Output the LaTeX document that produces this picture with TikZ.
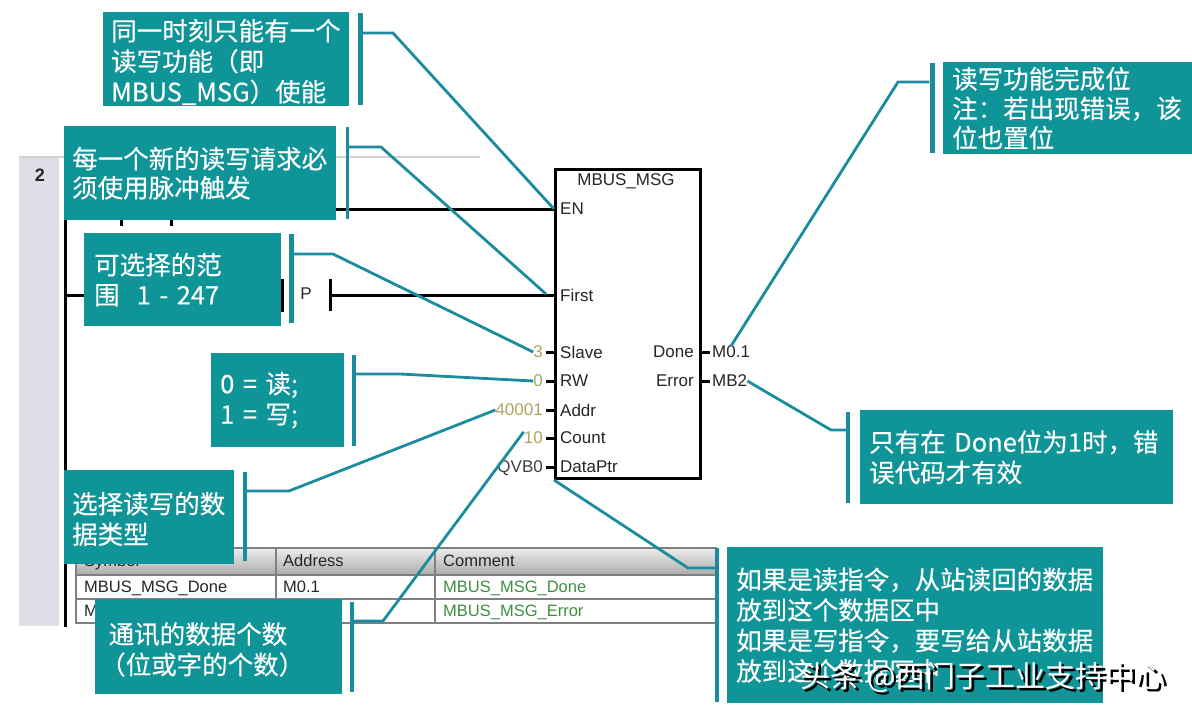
\documentclass[tikz,border=0pt]{standalone}
\usepackage{fontspec}
\setmainfont{Noto Sans CJK SC}
\newfontfamily\notefont{Noto Sans CJK SC}[RawFeature={embolden=0.3}]
\newfontfamily\plcfont{Liberation Sans}
\definecolor{noteteal}{HTML}{0F9497}
\definecolor{leadteal}{HTML}{1B8C9E}
\definecolor{valolive}{HTML}{B0A35E}
\definecolor{cmtgreen}{HTML}{3E8E3E}
\definecolor{stripgray}{HTML}{DDDEE6}
\tikzset{
	notebox/.style={fill=noteteal, text=white, anchor=north west, inner ysep=0pt, inner xsep=8pt, align=left,
		font=\notefont\fontsize{25.5}{30.5}\selectfont},
	notebar/.style={fill=leadteal, inner sep=0pt, minimum width=4pt},
	leader/.style={draw=leadteal, line width=2.8pt},
	rung/.style={draw=black, line width=3pt},
	pintext/.style={inner sep=0pt, anchor=west, text depth=0pt, text=black!85,
		font=\plcfont\fontsize{17}{20}\selectfont},
	valtext/.style={pintext, anchor=east, text=valolive},
	tabtext/.style={pintext, font=\plcfont\fontsize{16.5}{20}\selectfont}
}
\begin{document}
\begin{tikzpicture}[x=1pt, y=-1pt]
\useasboundingbox (0,0) rectangle (1192,712);

% draw ladder strip
	\fill[color=stripgray] (19,157) rectangle (59,626);
	\draw[color=gray!35, line width=1.5pt] (19,157) -- (480,157);
	\node (netnum) [pintext, anchor=center, font=\plcfont\bfseries\fontsize{18}{20}\selectfont] at (40,175) {2};

% draw symbol table
	\shade[top color=gray!15, bottom color=gray!65] (76,548) rectangle (716,575);
	\draw[color=gray, line width=1.2pt] (76,548) rectangle (716,623);
	\draw[color=gray, line width=1.2pt] (76,575) -- (716,575);
	\draw[color=gray, line width=1.2pt] (76,599) -- (716,599);
	\draw[color=gray, line width=1.2pt] (276,548) -- (276,623);
	\draw[color=gray, line width=1.2pt] (435,548) -- (435,623);
	\node (colsym) [tabtext] at (84,561) {Symbol};
	\node (coladdr) [tabtext] at (283,561) {Address};
	\node (colcmt) [tabtext] at (443,561) {Comment};
	\node (rowsym) [tabtext] at (84,587) {MBUS\_MSG\_Done};
	\node (rowaddr) [tabtext] at (283,587) {M0.1};
	\node (rowcmt) [tabtext, text=cmtgreen] at (443,587) {MBUS\_MSG\_Done};
	\node (rowsymb) [tabtext] at (84,611) {M};
	\node (rowcmtb) [tabtext, text=cmtgreen] at (443,611) {MBUS\_MSG\_Error};

% draw block
	\node (mbus) [draw=black, line width=3pt, fill=white, anchor=north west, minimum width=145pt, minimum height=309pt, inner sep=0pt] at (554,168) {};
	\node (title) [pintext, anchor=center] at (626,180) {MBUS\_MSG};
	\node (pinEN) [pintext] at (560,209) {EN};
	\node (pinFirst) [pintext] at (560,295) {First};
	\node (pinSlave) [pintext] at (560,352) {Slave};
	\node (pinRW) [pintext] at (560,381) {RW};
	\node (pinAddr) [pintext] at (560,410) {Addr};
	\node (pinCount) [pintext] at (560,438) {Count};
	\node (pinData) [pintext] at (560,467) {DataPtr};
	\node (pinDone) [pintext, anchor=east] at (694,352) {Done};
	\node (pinError) [pintext, anchor=east] at (694,381) {Error};

% draw values at the pins
	\node (val3) [valtext] at (543,352) {3};
	\node (val0) [valtext] at (543,381) {0};
	\node (valAddr) [valtext] at (543,410) {40001};
	\node (valCount) [valtext] at (543,438) {10};
	\node (valData) [valtext, text=black!75] at (543,467) {QVB0};
	\node (valDone) [pintext] at (712,352) {M0.1};
	\node (valError) [pintext] at (712,381) {MB2};

% draw pin stubs
	\foreach \v in {val3, val0, valAddr, valCount, valData}
		\draw[rung] (\v.east -| mbus.west) ++(-8,0) -- (\v.east -| mbus.west);
	\foreach \v in {valDone, valError}
		\draw[rung] (\v.west -| mbus.east) -- ++(8,0);

% draw rungs
	\coordinate (railtop) at (65,209);
	\coordinate (railend) at (65,627);
	\coordinate (railp) at (65,295);
	\node (contact) [pintext, anchor=center] at (306,294) {P};
	\coordinate (barp) at (330,295);
	\draw[rung] (railtop) -- (railend);
	\draw[rung] (railtop) -- (mbus.west |- pinEN);
	\draw[rung] (railp) -- (90,295);
	\draw[rung] (barp) -- (mbus.west |- pinFirst);
	\draw[rung] (330,279) -- (330,311);
	\draw[rung] (282,279) -- (282,312);
	\draw[rung] (121,200) -- (121,226);
	\draw[rung] (171,200) -- (171,226);

% draw leader lines
	\node (barA) [notebar, minimum width=5pt, minimum height=92pt] at (360,59) {};
	\node (barB) [notebar, minimum width=3pt, minimum height=92pt] at (347,173) {};
	\node (barC) [notebar, minimum width=5pt, minimum height=89pt] at (291,278) {};
	\node (barD) [notebar, minimum height=91pt] at (354,400) {};
	\node (barE) [notebar, minimum height=89pt] at (245,516) {};
	\node (barF) [notebar, minimum height=90pt] at (352,647) {};
	\node (barG) [notebar, minimum height=154pt] at (717,625) {};
	\node (barH) [notebar, minimum width=5pt, minimum height=90pt] at (932,108) {};
	\node (barI) [notebar, minimum height=91pt] at (848,457) {};
	\coordinate (kneeA) at (393,33);
	\coordinate (kneeB) at (381,147);
	\coordinate (kneeC) at (333,254);
	\coordinate (kneeD) at (400,374);
	\coordinate (kneeE) at (289,491);
	\coordinate (kneeF) at (383,621);
	\coordinate (kneeG) at (688,568);
	\coordinate (kneeH) at (898,82);
	\coordinate (kneeI) at (831,430);
	\coordinate (tipFirst) at (546,294);
	\draw[leader] (barA.east |- kneeA) -- (kneeA) -- (mbus.west |- pinEN);
	\draw[leader] (barB.east |- kneeB) -- (kneeB) -- (tipFirst);
	\draw[leader] (barC.east |- kneeC) -- (kneeC) -- (val3.west);
	\draw[leader] (barD.east |- kneeD) -- (kneeD) -- (val0.west);
	\draw[leader] (barE.east |- kneeE) -- (kneeE) -- (valAddr.west);
	\draw[leader] (barF.east |- kneeF) -- (kneeF) -- (valCount.north west);
	\draw[leader] (barG.west |- kneeG) -- (kneeG) -- (mbus.south west);
	\draw[leader] (barH.west |- kneeH) -- (kneeH) -- (valDone.north);
	\draw[leader] (barI.west |- kneeI) -- (kneeI) -- (valError.east);

% draw note boxes
	\node (noteA) [notebox, minimum height=94pt, text width=230pt] at (103,12) {\rule{0pt}{27pt}同一时刻只能有一个\\读写功能（即\\MBUS\_MSG）使能};
	\node (noteB) [notebox, minimum height=94pt, text width=256pt, font=\notefont\fontsize{25.5}{29}\selectfont] at (64,126) {每一个新的读写请求必\\须使用脉冲触发};
	\node (noteC) [notebox, minimum height=93pt, inner xsep=10pt, text width=177pt, font=\notefont\fontsize{25.5}{30}\selectfont] at (84,233) {可选择的范\\围\ \ 1 - 247};
	\node (noteD) [notebox, minimum height=94pt, inner xsep=9pt, text width=115pt] at (211,353) {0 = 读;\\1 = 写;};
	\node (noteE) [notebox, minimum height=94pt, text width=154pt] at (64,470) {\rule{0pt}{25pt}选择读写的数\\据类型};
	\node (noteF) [notebox, minimum height=95pt, inner xsep=5pt, text width=237pt] at (95,599) {\rule{0pt}{27pt}\ 通讯的数据个数\\（位或字的个数）};
	\node (noteG) [notebox, minimum height=156pt, inner xsep=9pt, text width=358pt] at (727,547) {如果是读指令，从站读回的数据\\放到这个数据区中\\如果是写指令，要写给从站数据\\放到这个数据区中};
	\node (noteH) [notebox, minimum height=92pt, inner xsep=9pt, text width=231pt, font=\notefont\fontsize{25.5}{29.5}\selectfont] at (943,62) {读写功能完成位\\注：若出现错误，该\\位也置位};
	\node (noteI) [notebox, minimum height=94pt, inner xsep=9pt, text width=295pt] at (860,410) {只有在 Done位为1时，错\\误代码才有效};

% draw watermark
	\node (markshadow) [inner sep=0pt, anchor=west, text=black, font=\notefont\fontsize{30}{32}\selectfont] at (802.5,679.5) {头条 @西门子工业支持中心};
	\node (mark) [inner sep=0pt, anchor=west, text=white, font=\fontsize{30}{32}\selectfont] at (800.5,677.5) {头条 @西门子工业支持中心};
\end{tikzpicture}
\end{document}
